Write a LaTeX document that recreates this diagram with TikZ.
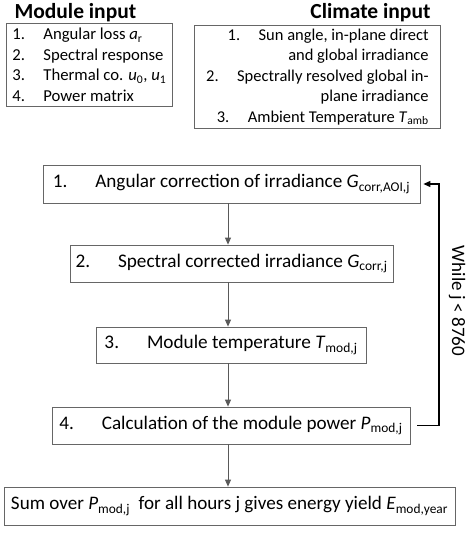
\documentclass[tikz,border=0pt]{standalone}
\usepackage{fontspec}
\setmainfont{Carlito}
\usetikzlibrary{arrows.meta,calc,positioning}

\tikzset{
  flowbox/.style={draw=black!60, fill=white, line width=0.8pt, inner xsep=5pt,
    font=\fontsize{19}{22}\selectfont},
  listbox/.style={draw=black!60, line width=0.8pt, anchor=north west,
    inner xsep=6pt, inner ysep=2pt},
  heading/.style={font=\fontsize{21.5}{24}\selectfont\bfseries},
  link/.style={draw=black!65, line width=0.8pt, -{Triangle[length=7pt,width=6pt]}},
  loopline/.style={draw=black, line width=1.1pt, -{Triangle[length=7pt,width=6pt]}},
}
\newcommand{\stepno}[1]{\makebox[42pt][l]{#1}}
\newcommand{\itemno}[1]{\makebox[31pt][l]{#1}}
\newcommand{\symsub}[2]{\textit{#1}\textsubscript{#2}}
\newcommand{\fitline}[2]{\resizebox{#1}{!}{#2}}

\begin{document}
\begin{tikzpicture}[x=1pt,y=-1pt]
\useasboundingbox (0,0) rectangle (474,537);

% inputs
\node[heading, anchor=base west] (modtitle) at (11,19) {Module input};
\node[heading, anchor=base east] (climtitle) at (434,19) {Climate input};
\node[listbox, font=\fontsize{16.7}{20.5}\selectfont, minimum width=165pt, minimum height=83pt, align=left] (modin) at (6,23) {%
  \itemno{1.}Angular loss \symsub{a}{r}\\
  \itemno{2.}Spectral response\\
  \itemno{3.}Thermal co. \symsub{u}{0}, \symsub{u}{1}\\
  \itemno{4.}Power matrix};
\node[listbox, font=\fontsize{16.5}{20.5}\selectfont, minimum width=246pt, minimum height=103pt, align=right] (climin) at (194,25) {%
  \itemno{1.}Sun angle, in-plane direct\\
  and global irradiance\\
  \itemno{2.}Spectrally resolved global in-\\
  plane irradiance\\
  \itemno{3.}Ambient Temperature \symsub{T}{amb}};

% hourly loop
\node[flowbox, minimum width=377pt, minimum height=38pt] (s1) at (231.5,184) {\fitline{357pt}{\stepno{1.}Angular correction of irradiance \symsub{G}{corr,AOI,j}}};
\node[flowbox, minimum width=323pt, minimum height=37pt] (s2) at (231.5,263.5) {\fitline{312pt}{\stepno{2.}Spectral corrected irradiance \symsub{G}{corr,j}}};
\node[flowbox, minimum width=270pt, minimum height=36pt] (s3) at (231,345) {\fitline{253pt}{\stepno{3.}Module temperature \symsub{T}{mod,j}}};
\node[flowbox, minimum width=358pt, minimum height=37pt] (s4) at (231,425.5) {\fitline{343pt}{\stepno{4.}Calculation of the module power \symsub{P}{mod,j}}};
\node[flowbox, minimum width=451pt, minimum height=38pt] (sum) at (229.5,506) {\fitline{437pt}{Sum over \symsub{P}{mod,j}~ for all hours j gives energy yield \symsub{E}{mod,year}}};

\coordinate (spine) at (228,0);
\draw[link] (s1.south -| spine) -- (s2.north -| spine);
\draw[link] (s2.south -| spine) -- (s3.north -| spine);
\draw[link] (s3.south -| spine) -- (s4.north -| spine);
\draw[link] (s4.south -| spine) -- (sum.north -| spine);

\coordinate (back) at (439,0);
\draw[loopline] ([xshift=7pt]s4.east) -- (s4.east -| back) |- ([xshift=3pt]s1.east);
\node[rotate=-90, font=\fontsize{19}{22}\selectfont] (cond) at (457,301) {While j < 8760};
\end{tikzpicture}
\end{document}
